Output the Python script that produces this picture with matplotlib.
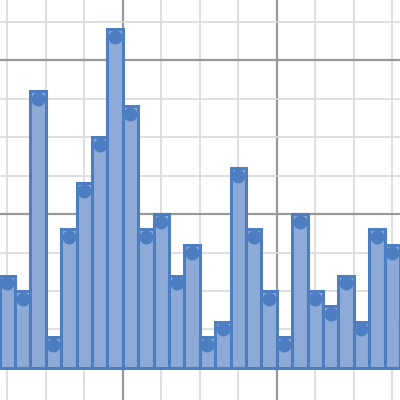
import matplotlib
matplotlib.use('Agg')
import matplotlib.pyplot as plt
import numpy as np

# bar heights (grid minor step = 2.5)
heights = [6, 5, 18, 2, 9, 12, 15, 22, 17, 9, 10, 6, 8, 2, 3, 13, 9, 5, 2, 10, 5, 4, 6, 3, 9, 8, 3]
positions = np.arange(len(heights))

fig = plt.figure(figsize=(4, 4), dpi=100)
ax = fig.add_axes([0, 0, 1, 1])

# grid
for xv in np.arange(0, 26, 2.5):
    major = abs((xv - 7.5) % 10) < 1e-6
    ax.axvline(xv, color='#999999' if major else '#d9d9d9', lw=1.6 if major else 1.2, zorder=0)
for yv in np.arange(0, 25, 2.5):
    major = abs(yv % 10) < 1e-6
    ax.axhline(yv, color='#999999' if major else '#d9d9d9', lw=1.6 if major else 1.2, zorder=0)

ax.bar(positions, heights, width=1.0, color='#8eaad6', edgecolor='#4d7ec1',
       linewidth=2.2, zorder=2)
ax.plot(positions, np.array(heights) - 0.5, 'o', color='#4d7ec1', ms=9, zorder=3)

ax.set_xlim(-0.47, 25.5)
ax.set_ylim(-2.08, 23.9)
ax.axis('off')
fig.savefig('out.png', dpi=100)
